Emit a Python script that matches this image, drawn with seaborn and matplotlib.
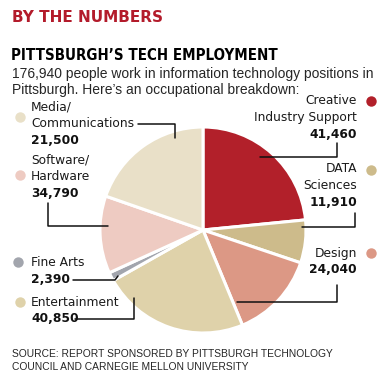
import matplotlib
matplotlib.use("Agg")
import matplotlib.pyplot as plt
from matplotlib.lines import Line2D
import seaborn as sns

# labels, clockwise from 12 o'clock, with the numbers printed on the graphic
categories = ["Creative\nIndustry Support", "DATA\nSciences", "Design", "Entertainment",
              "Fine Arts", "Software/\nHardware", "Media/\nCommunications"]
value_labels = ["41,460", "11,910", "24,040", "40,850", "2,390", "34,790", "21,500"]
# wedge sizes as drawn in the original graphic (the pink and cream wedges
# there are drawn with each other's values)
wedge_sizes = [41460, 11910, 24040, 40850, 2390, 21500, 34790]
colors = ["#b2202a", "#cdbb8b", "#dc9885", "#dfd2aa", "#a2a5ad", "#eecbc2", "#e9e0c8"]

sns.set_theme(style="white")
plt.rcParams["font.family"] = ["Liberation Sans", "DejaVu Sans"]

W, H = 386, 382
fig = plt.figure(figsize=(W / 100, H / 100), dpi=100)
fig.patch.set_facecolor("white")


def fx(x):
    return x / W


def fy(y):
    return 1 - y / H


# pie, centre (203, 230) px, radius ~103 px
cx, cy, r = 203, 230, 103
ax = fig.add_axes([fx(cx - r), fy(cy + r), 2 * r / W, 2 * r / H])
ax.pie(wedge_sizes, colors=colors, startangle=90, counterclock=False,
       wedgeprops=dict(edgecolor="white", linewidth=2.2))
ax.set_xlim(-1, 1)
ax.set_ylim(-1, 1)
ax.set_aspect("auto")
ax.axis("off")

# headings
fig.text(fx(12), fy(17), "BY THE NUMBERS", color="#b31b2b", fontsize=11,
         fontweight="heavy", va="center", ha="left", family=["DejaVu Sans"])
title = fig.text(fx(11), fy(55), "PITTSBURGH\u2019S TECH EMPLOYMENT", color="black",
                 fontsize=15.5, fontweight="bold", va="center", ha="left",
                 fontstretch="condensed", family=["DejaVu Sans"])
# shrink the title until it spans the same width as in the reference
renderer = fig.canvas.get_renderer()
w = title.get_window_extent(renderer).width
if w > 265:
    title.set_fontsize(15.5 * 265 / w)

fig.text(fx(12), fy(74), "176,940 people work in information technology positions in",
         fontsize=10, va="center", ha="left")
fig.text(fx(12), fy(90), "Pittsburgh. Here\u2019s an occupational breakdown:",
         fontsize=10, va="center", ha="left")
fig.text(fx(12), fy(354), "SOURCE: REPORT SPONSORED BY PITTSBURGH TECHNOLOGY",
         fontsize=7.4, va="center", ha="left")
fig.text(fx(12), fy(367), "COUNCIL AND CARNEGIE MELLON UNIVERSITY",
         fontsize=7.4, va="center", ha="left")

# label positions: (x of text, y of first line, side)
label_pos = [
    (357, 101, "right"),
    (357, 169, "right"),
    (357, 253, "right"),
    (31, 302, "left"),
    (31, 263, "left"),
    (31, 160, "left"),
    (31, 107, "left"),
]
dot_pos = [(371, 101), (371, 170), (371, 253), (20, 302), (18, 262), (20, 175), (20, 117)]
line_h = 16.8
lab_font = ["DejaVu Sans"]

for cat, val, col, (tx, ty, side), (dx, dy) in zip(categories, value_labels, colors,
                                                    label_pos, dot_pos):
    lines = cat.split("\n")
    for i, ln in enumerate(lines):
        fig.text(fx(tx), fy(ty + i * line_h), ln, fontsize=8.8, ha=side, va="center",
                 color="#1a1a1a", family=lab_font)
    fig.text(fx(tx), fy(ty + len(lines) * line_h), val, fontsize=8.8, ha=side,
             va="center", fontweight="bold", color="#111111", family=lab_font)
    fig.add_artist(Line2D([fx(dx)], [fy(dy)], marker="o", markersize=7.5, color=col,
                          markeredgewidth=0, transform=fig.transFigure))

# leader lines (pixel paths)
leaders = [
    [(260, 157), (337, 157), (337, 143)],
    [(302, 227), (355, 227), (355, 213)],
    [(237, 302), (337, 302), (337, 285)],
    [(75, 319), (134, 319), (134, 298)],
    [(73, 280), (115, 280), (118, 276)],
    [(48, 203), (48, 226), (108, 226)],
    [(138, 124), (175, 124), (175, 138)],
]
for path in leaders:
    xs = [fx(p[0]) for p in path]
    ys = [fy(p[1]) for p in path]
    fig.add_artist(Line2D(xs, ys, color="#111111", linewidth=1.1,
                          transform=fig.transFigure))

fig.savefig("out.png", dpi=100)
